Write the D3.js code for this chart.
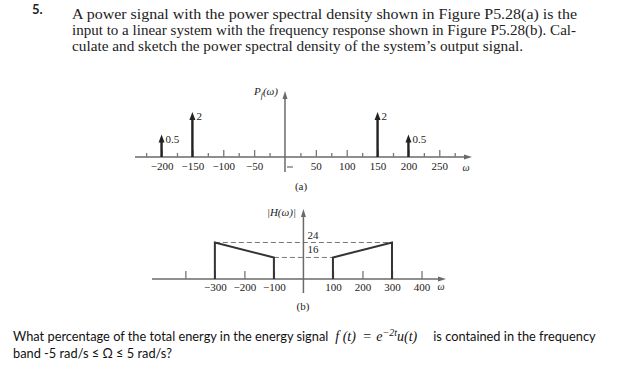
<!DOCTYPE html>
<html>
<head>
<meta charset="utf-8">
<script src="https://cdn.jsdelivr.net/npm/d3@7"></script>
<style>
  body { margin: 0; background: #fff; }
  .serif { font-family: "Liberation Serif", "Times New Roman", serif; }
  .axis line { stroke: #777; stroke-width: 1.3; }
  .axis path { display: none; }
</style>
</head>
<body>
<div id="chart"></div>
<script>
// ---- data ----
// (a) power spectral density impulses
var psdFreq = [-200, -150, 150, 200];
var psdPower = [0.5, 2, 2, 0.5];
var psdMajorTicks = [-200, -150, -100, -50, 50, 100, 150, 200, 250];
var psdMinorTicks = [-225, -175, -125, -75, -25, 25, 75, 125, 175, 225, 275];

// (b) frequency response magnitude
var hFreq = [-300, -100, 100, 300];
var hMag = [24, 16, 16, 24];
var hLevels = [24, 16];
var hLevelFreq = [300, 100];
var hTicks = [-400, -300, -200, -100, 100, 200, 300, 400];
var hTickLabels = [-300, -200, -100, 100, 200, 300, 400];

var questionLines = [
  "A power signal with the power spectral density shown in Figure P5.28(a) is the",
  "input to a linear system with the frequency response shown in Figure P5.28(b). Cal-",
  "culate and sketch the power spectral density of the system\u2019s output signal."
];

var svg = d3.select("#chart")
  .append("svg")
  .attr("width", 623)
  .attr("height", 375);

svg.append("rect").attr("width", 623).attr("height", 375).attr("fill", "#fff");

var axisColor = "#6a6a6a";
var markColor = "#222";

function minusFmt(d) {
  return d < 0 ? "\u2212" + Math.abs(d) : "" + d;
}

// little filled arrow head, tip at (x, y), pointing up or right
function arrowHead(g, x, y, dir, w, h, color) {
  var p;
  if (dir === "up") p = [[x, y], [x - w / 2, y + h], [x + w / 2, y + h]];
  else p = [[x, y], [x - h, y - w / 2], [x - h, y + w / 2]];
  g.append("path")
    .attr("d", "M" + p.join("L") + "Z")
    .attr("fill", color);
}

function styleAxisText(g) {
  g.selectAll("text")
    .attr("font-family", "'Liberation Serif', serif")
    .attr("font-size", 11)
    .attr("fill", "#222");
}

// ---- header text ----
svg.append("text")
  .attr("x", 32).attr("y", 14)
  .attr("font-family", "Lato, 'Open Sans', sans-serif")
  .attr("font-weight", "bold")
  .attr("font-size", 13)
  .attr("fill", "#222")
  .text("5.");

var lineWidths = [505, 504, 451];
svg.selectAll(".qline")
  .data(questionLines)
  .enter()
  .append("text")
  .attr("class", "qline serif")
  .attr("x", 72)
  .attr("y", function(d, i) { return 19 + i * 16; })
  .attr("font-size", 15)
  .attr("fill", "#222")
  .attr("textLength", function(d, i) { return lineWidths[i]; })
  .attr("lengthAdjust", "spacingAndGlyphs")
  .text(function(d) { return d; });

// ---- chart (a) ----
var xA = d3.scaleLinear().domain([-243, 303]).range([135, 472]);
var yA = d3.scaleSqrt().domain([0, 2]).range([157, 112]);
var baseA = yA(0);
var gA = svg.append("g");

gA.append("line")
  .attr("x1", 135).attr("x2", 466)
  .attr("y1", baseA).attr("y2", baseA)
  .attr("stroke", axisColor).attr("stroke-width", 1.5);
arrowHead(gA, 472, baseA, "right", 5, 8, axisColor);

gA.append("line")
  .attr("x1", xA(0)).attr("x2", xA(0))
  .attr("y1", 172).attr("y2", 97)
  .attr("stroke", axisColor).attr("stroke-width", 1.5);
arrowHead(gA, xA(0), 91, "up", 5, 8, axisColor);

// small dash at origin
gA.append("line")
  .attr("x1", xA(0) + 2).attr("x2", xA(0) + 8)
  .attr("y1", 167).attr("y2", 167)
  .attr("stroke", axisColor).attr("stroke-width", 1.2);

gA.append("g")
  .attr("class", "axis")
  .attr("transform", "translate(0," + baseA + ")")
  .call(d3.axisBottom(xA).tickValues(psdMinorTicks).tickSize(-4).tickFormat(""));

gA.append("g")
  .attr("class", "axis")
  .attr("transform", "translate(0," + baseA + ")")
  .call(d3.axisBottom(xA).tickValues(psdMajorTicks).tickSize(-7).tickPadding(5).tickFormat(minusFmt))
  .call(styleAxisText);

// impulses
var imp = gA.selectAll(".impulse")
  .data(psdFreq)
  .enter()
  .append("g")
  .attr("class", "impulse");

imp.append("line")
  .attr("x1", function(d) { return xA(d); })
  .attr("x2", function(d) { return xA(d); })
  .attr("y1", baseA)
  .attr("y2", function(d, i) { return yA(psdPower[i]) + 6; })
  .attr("stroke", markColor)
  .attr("stroke-width", 2.4);

imp.each(function(d, i) {
  arrowHead(d3.select(this), xA(d), yA(psdPower[i]), "up", 6, 8, markColor);
});

imp.append("text")
  .attr("class", "serif")
  .attr("x", function(d) { return xA(d) + 4; })
  .attr("y", function(d, i) { return yA(psdPower[i]) + 8; })
  .attr("font-size", 11)
  .attr("fill", "#222")
  .text(function(d, i) { return psdPower[i]; });

var pLab = gA.append("text")
  .attr("class", "serif")
  .attr("x", 278).attr("y", 95)
  .attr("text-anchor", "end")
  .attr("font-size", 11)
  .attr("font-style", "italic")
  .attr("fill", "#222");
pLab.append("tspan").text("P");
pLab.append("tspan").attr("font-size", 8).attr("dy", 3).text("f");
pLab.append("tspan").attr("dy", -3).text("(\u03c9)");

gA.append("text")
  .attr("class", "serif")
  .attr("x", 466).attr("y", 171)
  .attr("text-anchor", "middle")
  .attr("font-size", 10)
  .attr("font-style", "italic")
  .attr("fill", "#222")
  .text("\u03c9");

gA.append("text")
  .attr("class", "serif")
  .attr("x", 301).attr("y", 190)
  .attr("text-anchor", "middle")
  .attr("font-size", 11)
  .attr("fill", "#222")
  .text("(a)");

// ---- chart (b) ----
var xB = d3.scaleLinear().domain([-513, 483]).range([152, 446]);
var yB = d3.scalePow().exponent(1.3).domain([0, 24]).range([279, 242.5]);
var baseB = yB(0);
var gB = svg.append("g");

// dashed guides
gB.selectAll(".guide")
  .data(hLevels)
  .enter()
  .append("line")
  .attr("class", "guide")
  .attr("x1", function(d, i) { return xB(-hLevelFreq[i]); })
  .attr("x2", function(d, i) { return xB(hLevelFreq[i]); })
  .attr("y1", function(d) { return yB(d); })
  .attr("y2", function(d) { return yB(d); })
  .attr("stroke", "#777")
  .attr("stroke-width", 1)
  .attr("stroke-dasharray", "5,3");

gB.append("line")
  .attr("x1", 152).attr("x2", 440)
  .attr("y1", baseB).attr("y2", baseB)
  .attr("stroke", axisColor).attr("stroke-width", 1.5);
arrowHead(gB, 446, baseB, "right", 5, 8, axisColor);

gB.append("line")
  .attr("x1", xB(0)).attr("x2", xB(0))
  .attr("y1", 293).attr("y2", 216)
  .attr("stroke", axisColor).attr("stroke-width", 1.5);
arrowHead(gB, xB(0), 209, "up", 5, 8, axisColor);

gB.append("g")
  .attr("class", "axis")
  .attr("transform", "translate(0," + baseB + ")")
  .call(d3.axisBottom(xB).tickValues(hTicks).tickSize(-8).tickPadding(4)
    .tickFormat(function(d) { return hTickLabels.indexOf(d) < 0 ? "" : minusFmt(d); }))
  .call(styleAxisText);

// |H| passbands
var bands = [[0, 1], [2, 3]];
var line = d3.line()
  .x(function(d) { return xB(d[0]); })
  .y(function(d) { return yB(d[1]); });

gB.selectAll(".band")
  .data(bands)
  .enter()
  .append("path")
  .attr("class", "band")
  .attr("d", function(b) {
    return line([
      [hFreq[b[0]], 0], [hFreq[b[0]], hMag[b[0]]],
      [hFreq[b[1]], hMag[b[1]]], [hFreq[b[1]], 0]
    ]);
  })
  .attr("fill", "none")
  .attr("stroke", "#333")
  .attr("stroke-width", 2);

gB.selectAll(".lvl")
  .data(hLevels)
  .enter()
  .append("text")
  .attr("class", "lvl serif")
  .attr("x", xB(0) + 4)
  .attr("y", function(d) { return yB(d) - 4; })
  .attr("font-size", 11)
  .attr("fill", "#222")
  .text(function(d) { return d; });

gB.append("text")
  .attr("class", "serif")
  .attr("x", 296).attr("y", 216)
  .attr("text-anchor", "end")
  .attr("font-size", 11)
  .attr("font-style", "italic")
  .attr("fill", "#222")
  .text("|H(\u03c9)|");

gB.append("text")
  .attr("class", "serif")
  .attr("x", 441).attr("y", 290)
  .attr("text-anchor", "middle")
  .attr("font-size", 10)
  .attr("font-style", "italic")
  .attr("fill", "#222")
  .text("\u03c9");

gB.append("text")
  .attr("class", "serif")
  .attr("x", 303).attr("y", 310)
  .attr("text-anchor", "middle")
  .attr("font-size", 11)
  .attr("fill", "#222")
  .text("(b)");

// ---- follow-up question: segments laid out one after another ----
var sans = "Lato, 'Open Sans', sans-serif";
var math = "'Liberation Serif', serif";
var qSize = 12.8;
var q = svg.append("g").attr("fill", "#111");

var t1 = q.append("text").attr("x", 13).attr("y", 341)
  .attr("font-family", sans).attr("font-size", qSize)
  .text("What percentage of the total energy in the energy signal");
var x0 = 13 + t1.node().getComputedTextLength() + 7;

var fx = q.append("text").attr("y", 341).attr("font-family", math).attr("font-size", 14);
fx.append("tspan").attr("x", x0).attr("font-style", "italic").text("f (t)");
fx.append("tspan").attr("x", x0 + 28).text("=");
fx.append("tspan").attr("x", x0 + 41).attr("font-style", "italic").text("e");
fx.append("tspan").attr("dy", -5).attr("font-size", 10).attr("font-style", "italic").text("\u22122t");
fx.append("tspan").attr("dy", 5).attr("font-style", "italic").text("u(t)");
var x1 = x0 + fx.node().getComputedTextLength() + 6 - 0;
x1 = Math.max(x1, x0 + 98);

q.append("text").attr("x", x1).attr("y", 341)
  .attr("font-family", sans).attr("font-size", qSize)
  .text("is contained in the frequency");
q.append("text").attr("x", 13).attr("y", 358)
  .attr("font-family", sans).attr("font-size", qSize)
  .text("band -5 rad/s \u2264 \u03a9 \u2264 5  rad/s?");
</script>
</body>
</html>
